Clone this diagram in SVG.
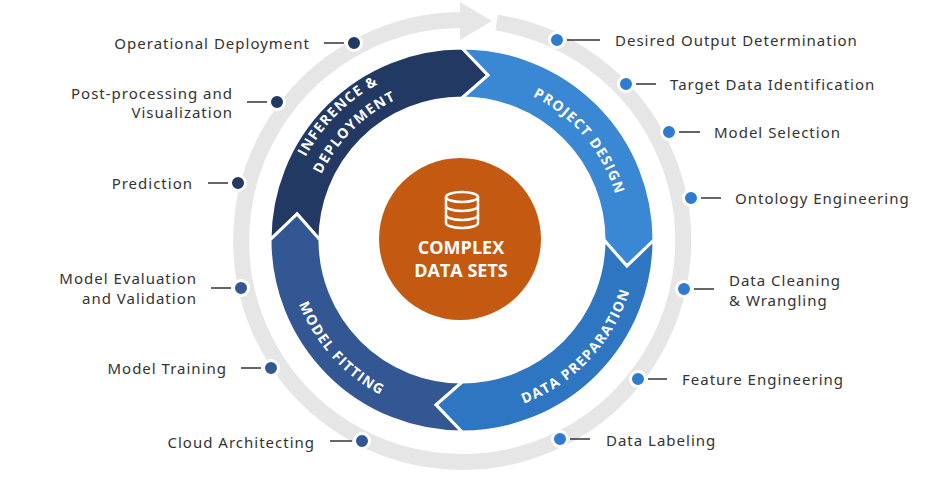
<svg xmlns="http://www.w3.org/2000/svg" width="941" height="489" viewBox="0 0 941 489">
<style>
.lbl{font-family:"Noto Sans","Liberation Sans",sans-serif;font-size:15px;fill:#333;letter-spacing:1px}
.r{text-anchor:end}
.seg{stroke:#fff;stroke-width:3;stroke-linejoin:miter}
.st{font-family:"Open Sans","Liberation Sans",sans-serif;font-weight:bold;font-size:14px;fill:#fff;letter-spacing:1.3px}
.ln{stroke:#333;stroke-width:1.5}
.dl{fill:#2e7bd0;stroke:#fff;stroke-width:3}
.dn{fill:#223a63;stroke:#fff;stroke-width:3}
.dm{fill:#335792;stroke:#fff;stroke-width:3}
</style>
<defs>
<path id="pPD" d="M475.9,80.6 A160 160 0 0 1 621.4,253.9"/>
<path id="pI1" d="M285,240 A177 177 0 0 1 462,63"/>
<path id="pI2" d="M307,240 A155 155 0 0 1 462,85"/>
<path id="pDP" d="M468.1,414.9 A175 175 0 0 0 636.9,233.9"/>
<path id="pMF" d="M287.2,230.8 A175 175 0 0 0 452.8,414.8"/>
</defs>
<rect width="941" height="489" fill="#fff"/>
<g id="ring">
<path d="M496.6,22.7 A221 221 0 1 1 462,20" fill="none" stroke="#e6e6e6" stroke-width="16"/>
<polygon points="460,2 492,21 460,40" fill="#e6e6e6"/>
</g>
<g id="inference"><path class="seg" fill="#223a63" d="M270,240 A192 192 0 0 1 462,48 L488.1,75.1 L462,98 A142 142 0 0 0 320,240 L297.1,213.9 Z"/>
<text class="st" text-anchor="middle"><textPath href="#pI1" startOffset="50%">INFERENCE &amp;</textPath></text>
<text class="st" text-anchor="middle"><textPath href="#pI2" startOffset="50%">DEPLOYMENT</textPath></text></g>
<g id="project"><path class="seg" fill="#3a87d4" d="M462,48 A192 192 0 0 1 654,240 L626.9,266.1 L604,240 A142 142 0 0 0 462,98 L488.1,75.1 Z"/>
<text class="st" text-anchor="middle"><textPath href="#pPD" startOffset="50%">PROJECT DESIGN</textPath></text></g>
<g id="dataprep"><path class="seg" fill="#2e75c2" d="M654,240 A192 192 0 0 1 462,432 L435.9,404.9 L462,382 A142 142 0 0 0 604,240 L626.9,266.1 Z"/>
<text class="st" text-anchor="middle"><textPath href="#pDP" startOffset="50%">DATA PREPARATION</textPath></text></g>
<g id="modelfit"><path class="seg" fill="#335792" d="M462,432 A192 192 0 0 1 270,240 L297.1,213.9 L320,240 A142 142 0 0 0 462,382 L435.9,404.9 Z"/>
<text class="st" text-anchor="middle"><textPath href="#pMF" startOffset="50%">MODEL FITTING</textPath></text></g>
<g id="center">
<circle cx="460" cy="239" r="81" fill="#c45a12"/>
<g fill="none" stroke="#fff" stroke-width="2.5">
<ellipse cx="462" cy="197" rx="16" ry="5"/>
<path d="M446,197 V223 A16 5 0 0 0 478,223 V197"/>
<path d="M446,206 A16 5 0 0 0 478,206 M446,215 A16 5 0 0 0 478,215"/>
</g>
<text x="461" y="254" text-anchor="middle" font-family="Open Sans, Liberation Sans, sans-serif" font-weight="bold" font-size="18" fill="#fff">COMPLEX</text>
<text x="461" y="277" text-anchor="middle" font-family="Open Sans, Liberation Sans, sans-serif" font-weight="bold" font-size="18" fill="#fff">DATA SETS</text>
</g>
<g id="connectors">
<line class="ln" x1="567" y1="40" x2="600" y2="40"/>
<line class="ln" x1="636" y1="84" x2="656" y2="84"/>
<line class="ln" x1="679" y1="132" x2="700" y2="132"/>
<line class="ln" x1="701" y1="198" x2="721" y2="198"/>
<line class="ln" x1="694" y1="289" x2="714" y2="289"/>
<line class="ln" x1="648" y1="379" x2="667" y2="379"/>
<line class="ln" x1="570" y1="439" x2="590" y2="439"/>
<line class="ln" x1="324" y1="43" x2="344" y2="43"/>
<line class="ln" x1="247" y1="102" x2="267" y2="102"/>
<line class="ln" x1="208" y1="183" x2="228" y2="183"/>
<line class="ln" x1="211" y1="288" x2="231" y2="288"/>
<line class="ln" x1="241" y1="368" x2="261" y2="368"/>
<line class="ln" x1="330" y1="441" x2="352" y2="441"/>
</g>
<g id="items">
<circle class="dl" cx="557" cy="40" r="7.5"/><text class="lbl" x="615" y="46">Desired Output Determination</text>
<circle class="dl" cx="626" cy="84" r="7.5"/><text class="lbl" x="670" y="90">Target Data Identification</text>
<circle class="dl" cx="669" cy="132" r="7.5"/><text class="lbl" x="714" y="138">Model Selection</text>
<circle class="dl" cx="691" cy="198" r="7.5"/><text class="lbl" x="735" y="204">Ontology Engineering</text>
<circle class="dl" cx="684" cy="289" r="7.5"/><text class="lbl" x="729" y="286">Data Cleaning</text><text class="lbl" x="729" y="306">&amp; Wrangling</text>
<circle class="dl" cx="638" cy="379" r="7.5"/><text class="lbl" x="682" y="385">Feature Engineering</text>
<circle class="dl" cx="560" cy="439" r="7.5"/><text class="lbl" x="606" y="446">Data Labeling</text>
<circle class="dn" cx="354" cy="43" r="7.5"/><text class="lbl r" x="310" y="49">Operational Deployment</text>
<circle class="dn" cx="277" cy="102" r="7.5"/><text class="lbl r" x="233" y="99">Post-processing and</text><text class="lbl r" x="233" y="118">Visualization</text>
<circle class="dn" cx="238" cy="183" r="7.5"/><text class="lbl r" x="193" y="189">Prediction</text>
<circle class="dm" cx="241" cy="288" r="7.5"/><text class="lbl r" x="197" y="284">Model Evaluation</text><text class="lbl r" x="197" y="304">and Validation</text>
<circle class="dm" cx="271" cy="368" r="7.5"/><text class="lbl r" x="227" y="374">Model Training</text>
<circle class="dm" cx="362" cy="441" r="7.5"/><text class="lbl r" x="315" y="448">Cloud Architecting</text>
</g>
</svg>
